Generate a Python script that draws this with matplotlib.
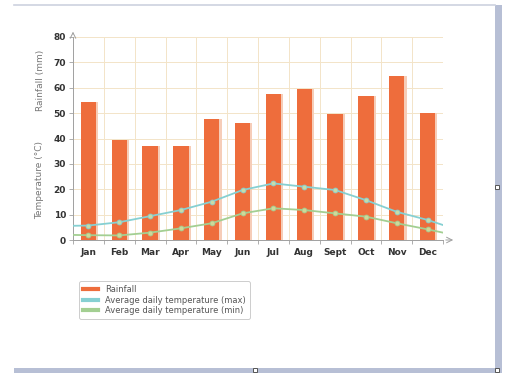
import matplotlib.pyplot as plt
from matplotlib.patches import Rectangle
from matplotlib.lines import Line2D
import numpy as np

# Data
months = ['Jan', 'Feb', 'Mar', 'Apr', 'May', 'Jun', 'Jul', 'Aug', 'Sept', 'Oct', 'Nov', 'Dec']
rainfall = [54.5, 39.6, 37, 37, 47.5, 46, 57.4, 59.7, 49.5, 56.7, 64.7, 49.9]
temp_max = [5.7, 7.0, 9.4, 11.8, 15.1, 19.7, 22.3, 21.0, 19.7, 15.7, 11.1, 7.9]
temp_min = [1.9, 1.8, 2.9, 4.6, 6.6, 10.5, 12.5, 11.8, 10.5, 9.2, 6.6, 4.2]
# where the lines meet the plot edges (left, right)
max_edges = [5.6, 5.9]
min_edges = [2.0, 2.9]

bar_col = '#ee6d3c'
max_col = '#86d0d2'
min_col = '#a3cf92'
grid_col = '#f3e4c8'
axis_col = '#a0a0a0'

fig = plt.figure(figsize=(5.12, 3.83), dpi=100)
W, H = 512, 383


def fx(px):
    return px / W


def fy(py):
    return 1 - py / H


ax = fig.add_axes([fx(73), fy(240), fx(443) - fx(73), fy(37) - fy(240)])
x = np.arange(len(months))

# bars with a faint shadow on the right
ax.bar(x + 0.07, rainfall, width=0.5, color='#f6cdb8', zorder=2)
ax.bar(x, rainfall, width=0.5, color=bar_col, zorder=3)

# temperature lines, running out to the plot edges
xe = np.concatenate([[-0.5], x, [11.5]])
ax.plot(xe, [max_edges[0]] + temp_max + [max_edges[1]], color=max_col, lw=1.3, zorder=4)
ax.plot(xe, [min_edges[0]] + temp_min + [min_edges[1]], color=min_col, lw=1.3, zorder=4)
ax.plot(x, temp_max, 'o', ms=3.5, mfc='#c8dca8', mec=max_col, mew=0.6, zorder=5)
ax.plot(x, temp_min, 'o', ms=3.5, mfc='#d0d898', mec=min_col, mew=0.6, zorder=5)

ax.set_xlim(-0.5, 11.5)
ax.set_ylim(0, 80)
ax.set_yticks(range(0, 81, 10))
ax.set_xticks(x)
ax.set_xticklabels(months, fontsize=6.5, fontweight='bold', color='#333333')
ax.set_xticks(np.arange(-0.5, 12, 1), minor=True)
ax.tick_params(axis='x', which='major', length=0, pad=6)
ax.tick_params(axis='x', which='minor', length=3, color=axis_col, width=0.6)
ax.tick_params(axis='y', labelsize=6.5, labelcolor='#333333', length=3,
               color=axis_col, width=0.6, pad=2)
for lab in ax.get_yticklabels():
    lab.set_fontweight('bold')

ax.grid(False)
for v in range(10, 81, 10):
    ax.axhline(v, color=grid_col, lw=0.7, zorder=1)
for b in np.arange(0.5, 12, 1):
    ax.axvline(b, color=grid_col, lw=0.7, zorder=1)

for s in ['top', 'right']:
    ax.spines[s].set_visible(False)
for s in ['left', 'bottom']:
    ax.spines[s].set_color(axis_col)
    ax.spines[s].set_linewidth(0.7)

# axis arrows
ax.annotate('', xy=(0, 1.04), xytext=(0, 1.0), xycoords='axes fraction',
            arrowprops=dict(arrowstyle='->', color=axis_col, lw=0.7))
ax.annotate('', xy=(1.035, 0), xytext=(1.0, 0), xycoords='axes fraction',
            arrowprops=dict(arrowstyle='->', color=axis_col, lw=0.7))

fig.text(fx(40), fy(80), 'Rainfall (mm)', rotation=90, ha='center', va='center',
         fontsize=6.5, color='#777777')
fig.text(fx(40), fy(180), 'Temperature (\u00b0C)', rotation=90, ha='center', va='center',
         fontsize=6.5, color='#777777')

# legend
handles = [Line2D([], [], color=bar_col, lw=3),
           Line2D([], [], color=max_col, lw=3),
           Line2D([], [], color=min_col, lw=3)]
labels = ['Rainfall', 'Average daily temperature (max)', 'Average daily temperature (min)']
leg = fig.legend(handles, labels, loc='upper left', bbox_to_anchor=(fx(75), fy(277)),
                 fontsize=6, frameon=True, fancybox=True, handlelength=1.8,
                 borderpad=0.5, labelspacing=0.15, handletextpad=0.8)
leg.get_frame().set_edgecolor('#c0c0c0')
leg.get_frame().set_linewidth(0.7)
for t in leg.get_texts():
    t.set_color('#555555')

# screenshot frame around the chart
frame = '#b7bfd5'
fig.add_artist(Line2D([fx(14), fx(495)], [fy(5), fy(5)], color='#cdd2df', lw=1.2))
fig.add_artist(Rectangle((fx(495), fy(373)), fx(7), fy(5) - fy(373), color=frame, lw=0))
fig.add_artist(Rectangle((fx(14), fy(373)), fx(488), fy(368) - fy(373), color=frame, lw=0))
for px, py in [(497, 187), (255, 370), (497, 370)]:
    fig.add_artist(Rectangle((fx(px - 2), fy(py + 2)), fx(4), fy(py - 2) - fy(py + 2),
                             facecolor='white', edgecolor='#555555', lw=0.7))

fig.savefig('out.png', dpi=100)
